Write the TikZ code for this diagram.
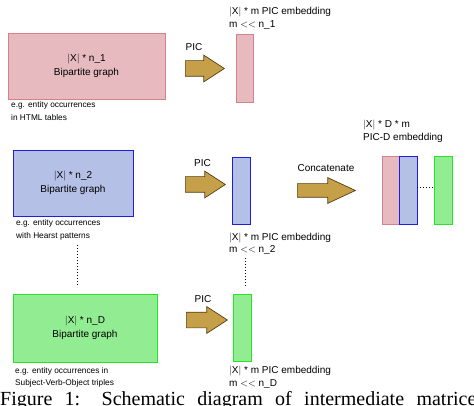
\documentclass[tikz,border=0pt]{standalone}
\usepackage{fontspec}
\setmainfont{Liberation Sans}
\newfontfamily\capfont{Liberation Serif}
\usetikzlibrary{shapes.arrows, positioning, calc}

\definecolor{pinkfill}{RGB}{230,186,190}
\definecolor{pinkline}{RGB}{214,128,138}
\definecolor{bluefill}{RGB}{180,192,230}
\definecolor{blueline}{RGB}{30,30,220}
\definecolor{greenfill}{RGB}{146,236,146}
\definecolor{greenline}{RGB}{40,228,40}
\definecolor{arrowfill}{RGB}{198,160,72}
\definecolor{arrowline}{RGB}{85,62,20}

\tikzset{
  mat/.style={draw, line width=0.9pt, inner sep=0pt, align=center,
    font=\fontsize{10}{14}\selectfont},
  pinkmat/.style={mat, fill=pinkfill, draw=pinkline},
  bluemat/.style={mat, fill=bluefill, draw=blueline},
  greenmat/.style={mat, fill=greenfill, draw=greenline},
  note/.style={anchor=base west, inner sep=0pt, align=left,
    font=\fontsize{8.3}{12.5}\selectfont},
  lbl/.style={anchor=base west, inner sep=0pt, align=left,
    font=\fontsize{10}{13}\selectfont},
  piclbl/.style={inner sep=0pt, font=\fontsize{10}{12}\selectfont},
  picarrow/.style={single arrow, draw=arrowline, fill=arrowfill,
    line width=0.7pt, inner xsep=0pt, inner ysep=7.5pt, anchor=tail,
    single arrow head extend=5.5pt, single arrow tip angle=66},
  dotline/.style={dotted, line width=1pt}
}

\begin{document}
\begin{tikzpicture}[x=1pt, y=-1pt]
    \useasboundingbox (0,0) rectangle (474,406);

    % row 1
    \node[pinkmat, minimum width=157pt, minimum height=66pt] (g1) at (86.5,66) {$|$X$|$ * n\_1\\Bipartite graph};
    \node[note] (n1) at (11,120.5) {e.g. entity occurrences\\in HTML tables};
    \node[piclbl] (t1) at (194,47) {PIC};
    \node[picarrow, minimum height=39pt] (a1) at (185,68.5) {};
    \node[pinkmat, minimum width=17pt, minimum height=68pt] (e1) at (244.5,68) {};
    \node[lbl] (l1) at (229,28) {$|$X$|$ * m PIC embedding\\m $<<$ n\_1};

    % row 2
    \node[bluemat, minimum width=120pt, minimum height=66pt] (g2) at (73,183) {$|$X$|$ * n\_2\\Bipartite graph};
    \node[note] (n2) at (16,238.5) {e.g. entity occurrences\\with Hearst patterns};
    \node[piclbl] (t2) at (202.5,163) {PIC};
    \node[picarrow, minimum height=40pt] (a2) at (185,184.5) {};
    \node[bluemat, minimum width=18pt, minimum height=67pt] (e2) at (241,190.5) {};
    \node[lbl] (l2) at (229,253) {$|$X$|$ * m PIC embedding\\m $<<$ n\_2};

    % row D
    \node[greenmat, minimum width=144pt, minimum height=68pt] (g3) at (85,328) {$|$X$|$ * n\_D\\Bipartite graph};
    \node[note] (n3) at (15,385.5) {e.g. entity occurrences in\\Subject-Verb-Object triples};
    \node[piclbl] (t3) at (203,299) {PIC};
    \node[picarrow, minimum height=41pt] (a3) at (186,320) {};
    \node[greenmat, minimum width=18pt, minimum height=67pt] (e3) at (242,327.5) {};
    \node[lbl] (l3) at (229,386) {$|$X$|$ * m PIC embedding\\m $<<$ n\_D};

    % concatenation
    \node[piclbl] (tc) at (326,168) {Concatenate};
    \node[picarrow, minimum height=58pt, inner ysep=6.5pt,
      single arrow head extend=6pt, single arrow tip angle=50] (ac) at (297,190.5) {};
    \node[lbl] (lc) at (363,141) {$|$X$|$ * D * m\\PIC-D embedding};
    \node[pinkmat, minimum width=17pt, minimum height=68pt] (c1) at (390.5,190) {};
    \node[bluemat, minimum width=18pt, minimum height=68pt] (c2) at (408,190) {};
    \node[greenmat, minimum width=18pt, minimum height=68pt] (c3) at (443,190) {};

    \coordinate (d1) at (77,245);
    \coordinate (d2) at (77,287);
    \coordinate (d3) at (245,258);
    \coordinate (d4) at (245,287);
    \path[dotline]
    (d1) edge (d2)
    (d3) edge (d4)
    ($(c2.east)+(0,-2)$) edge ($(c3.west)+(0,-2)$)
    ;

    \node[anchor=base west, inner sep=0pt, font=\capfont\fontsize{20}{24}\selectfont] (cap) at (0,405)
      {\makebox[484pt][s]{Figure 1: Schematic diagram of intermediate matrices}};
\end{tikzpicture}
\end{document}
